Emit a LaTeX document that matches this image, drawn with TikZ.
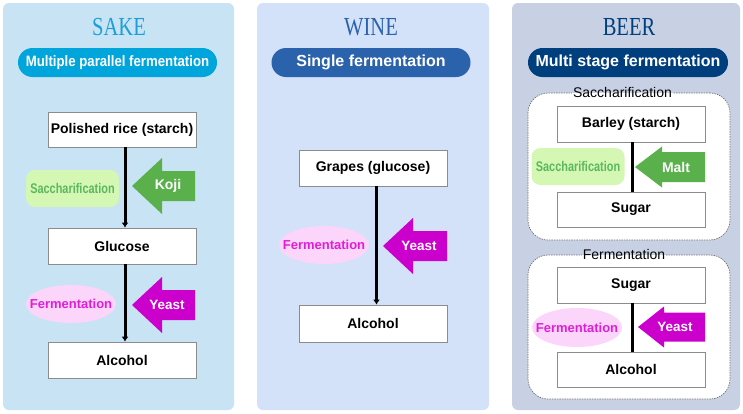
\documentclass[tikz,border=0pt]{standalone}
\usepackage{fontspec}
\setmainfont{Liberation Sans}
\newfontfamily\titlefont[FakeStretch=0.79]{Liberation Serif}
\newfontfamily\condfont[FakeStretch=0.78]{Liberation Sans}
\newfontfamily\pillcond[FakeStretch=0.88]{Liberation Sans}
\usetikzlibrary{arrows.meta,shapes.geometric}
\definecolor{sakebg}{HTML}{C8E3F4}
\definecolor{winebg}{HTML}{D3E1F9}
\definecolor{beerbg}{HTML}{C8D1E4}
\definecolor{sakepillc}{HTML}{00A5DC}
\definecolor{winepillc}{HTML}{2A62AC}
\definecolor{beerpillc}{HTML}{003F7E}
\definecolor{saketitlec}{HTML}{1AA0D8}
\definecolor{kojigreen}{HTML}{5AB14C}
\definecolor{saccfill}{HTML}{D4F7B4}
\definecolor{sacctext}{HTML}{5CB85C}
\definecolor{yeastmag}{HTML}{CC00CC}
\definecolor{fermfill}{HTML}{FCD5FB}
\definecolor{fermtext}{HTML}{E01ED8}
\definecolor{boxline}{HTML}{8C8C8C}
\begin{document}
\begin{tikzpicture}[x=1pt,y=-1pt,
  panel/.style={rounded corners=6pt},
  titletxt/.style={font=\titlefont\fontsize{26}{26}\selectfont},
  pill/.style={rounded corners=14.5pt, minimum width=199pt, minimum height=29pt, inner sep=0pt, text=white, font=\bfseries\fontsize{16}{16}\selectfont},
  stagebox/.style={draw=boxline, line width=0.8pt, fill=white, minimum width=148pt, minimum height=36pt, inner sep=0pt, font=\bfseries\fontsize{14}{14}\selectfont},
  flow/.style={line width=3pt, -{Latex[length=5pt,width=7pt]}},
  plainflow/.style={line width=3pt},
  sacclabel/.style={fill=saccfill, rounded corners=9pt, minimum width=93pt, minimum height=37pt, inner sep=0pt, text=sacctext, font=\condfont\bfseries\fontsize{14}{14}\selectfont},
  fermtxt/.style={inner sep=0pt, text=fermtext, font=\bfseries\fontsize{13}{13}\selectfont},
  arrowtxt/.style={text=white, inner sep=0pt, font=\bfseries\fontsize{14}{14}\selectfont},
  stagegroup/.style={draw=black!55, dash pattern=on 1.5pt off 1pt, line width=0.7pt, fill=white, rounded corners=20pt, minimum width=202pt, inner sep=0pt},
  grouplabel/.style={inner sep=1pt, font=\fontsize{14}{14}\selectfont,
     path picture={\fill[beerbg] (path picture bounding box.north west) rectangle (path picture bounding box.east);
                   \fill[white] (path picture bounding box.west) rectangle (path picture bounding box.south east);}}
]
\useasboundingbox (0,0) rectangle (743,413);

% ---------- panels
\fill[sakebg, panel] (3,3) rectangle (234,410);
\fill[winebg, panel] (257,3) rectangle (489,410);
\fill[beerbg, panel] (512,3) rectangle (740,410);

% ---------- titles
\node[titletxt, text=saketitlec] (saketitle) at (119,27) {SAKE};
\node[titletxt, text=winepillc] (winetitle) at (371,27) {WINE};
\node[titletxt, text=beerpillc] (beertitle) at (629,27) {BEER};

% ---------- pills
\node[pill, fill=sakepillc, font=\pillcond\bfseries\fontsize{15}{15}\selectfont] (sakepill) at (117.5,62.5) {Multiple parallel fermentation};
\node[pill, fill=winepillc] (winepill) at (371,62.5) {Single fermentation};
\node[pill, fill=beerpillc, minimum width=200pt] (beerpill) at (628,62.5) {Multi stage fermentation};

% ================= SAKE
\node[stagebox, minimum height=35pt] (rice) at (122,129.5) {Polished rice (starch)};
\node[stagebox] (glucose) at (122,246) {Glucose};
\node[stagebox] (sakealc) at (122,360) {Alcohol};
\draw[flow] ([xshift=3pt]rice.south) -- ([xshift=3pt]glucose.north);
\draw[flow] ([xshift=3pt]glucose.south) -- ([xshift=3pt]sakealc.north);
\node[sacclabel] (sakesacc) at (72.5,188.5) {Saccharification};
\fill[kojigreen] (132,186) -- (162,158) -- (162,171) -- (195,171) -- (195,201) -- (162,201) -- (162,214) -- cycle;
\node[arrowtxt] (koji) at (168,186) {Koji};
\fill[fermfill] (71,304) ellipse [x radius=45, y radius=19];
\node[fermtxt] (sakeferm) at (71,304) {Fermentation};
\fill[yeastmag] (132,305) -- (162,277) -- (162,290) -- (195,290) -- (195,320) -- (162,320) -- (162,333) -- cycle;
\node[arrowtxt, font=\bfseries\fontsize{13.5}{13.5}\selectfont] (sakeyeast) at (167,305) {Yeast};

% ================= WINE
\node[stagebox] (grapes) at (373,168) {Grapes (glucose)};
\node[stagebox, minimum height=37pt] (winealc) at (373,323.5) {Alcohol};
\draw[flow] ([xshift=3.5pt]grapes.south) -- ([xshift=3.5pt]winealc.north);
\fill[fermfill] (324,245) ellipse [x radius=45, y radius=19];
\node[fermtxt] (wineferm) at (324,245) {Fermentation};
\fill[yeastmag] (383,246) -- (413,218) -- (413,231) -- (447,231) -- (447,261) -- (413,261) -- (413,274) -- cycle;
\node[arrowtxt, font=\bfseries\fontsize{13.5}{13.5}\selectfont] (wineyeast) at (419,246) {Yeast};

% ================= BEER
\node[stagegroup, minimum height=147pt] (saccgroup) at (629,166.5) {};
\node[grouplabel] (saccgrouplabel) at (622.5,92.5) {Saccharification};
\node[stagegroup, minimum height=144pt] (ferggroup) at (629,327) {};
\node[grouplabel] (ferggrouplabel) at (624,254.5) {Fermentation};

\node[stagebox] (barley) at (631,124) {Barley (starch)};
\node[stagebox, minimum height=35pt] (sugarone) at (631,209.5) {Sugar};
\draw[plainflow] ([xshift=1pt]barley.south) -- ([xshift=1pt]sugarone.north);
\node[sacclabel] (beersacc) at (578,166.5) {Saccharification};
\fill[kojigreen] (635,167) -- (662,146.5) -- (662,152) -- (705,152) -- (705,182) -- (662,182) -- (662,187.5) -- cycle;
\node[arrowtxt] (malt) at (676,167) {Malt};

\node[stagebox] (sugartwo) at (631,285) {Sugar};
\node[stagebox, minimum height=35pt] (beeralc) at (631,369.5) {Alcohol};
\draw[plainflow] ([xshift=1pt]sugartwo.south) -- ([xshift=1pt]beeralc.north);
\fill[fermfill] (577,327.5) ellipse [x radius=45, y radius=19.5];
\node[fermtxt] (beerferm) at (577,327.5) {Fermentation};
\fill[yeastmag] (638,327) -- (664,306.5) -- (664,312.5) -- (705,312.5) -- (705,341.5) -- (664,341.5) -- (664,347.5) -- cycle;
\node[arrowtxt, font=\bfseries\fontsize{13.5}{13.5}\selectfont] (beeryeast) at (675,327) {Yeast};
\end{tikzpicture}
\end{document}
